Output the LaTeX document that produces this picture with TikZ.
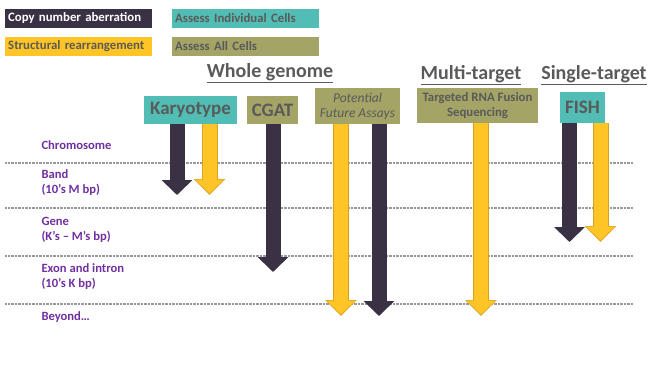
\documentclass[tikz,border=0pt]{standalone}
\usepackage{fontspec}
\setmainfont{Carlito}
\usepackage{xcolor}
\usetikzlibrary{positioning,arrows.meta}

\definecolor{cnapurple}{HTML}{3B3145}
\definecolor{sryellow}{HTML}{FFC425}
\definecolor{srgold}{HTML}{D9A21E}
\definecolor{indteal}{HTML}{52BDB4}
\definecolor{allolive}{HTML}{A4A467}
\definecolor{txtgray}{HTML}{5A5A5A}
\definecolor{lvlpurple}{HTML}{7030A0}

\begin{document}
\begin{tikzpicture}[x=1pt, y=-1pt,
  legend/.style={anchor=west, inner sep=3pt, text width=141pt, minimum height=19pt, align=left, font=\fontsize{12.8}{14}\selectfont\bfseries},
  assay/.style={draw=none, align=center, inner sep=2pt, text=txtgray},
  head/.style={font=\fontsize{20}{22}\selectfont\bfseries, text=txtgray},
  lvl/.style={anchor=west, align=left, font=\fontsize{12.6}{15}\selectfont\bfseries, text=lvlpurple},
  sep/.style={gray!80, line width=1.2pt, dash pattern=on 0.7pt off 0.7pt},
  cnarr/.style={cnapurple, line width=15pt, -{Triangle[length=15pt, width=30pt]}},
  srarr/.style={sryellow, line width=14pt, shorten >=1.5pt, -{Triangle[length=14pt, width=28pt]},
    preaction={draw=srgold, line width=16pt, shorten >=0pt, -{Triangle[length=16pt, width=31pt]}}}]
\useasboundingbox (0,0) rectangle (654,367);
% legend
\node[legend, fill=cnapurple, text=white] (cna) at (5,18.5) {Copy number aberration};
\node[legend, fill=sryellow, text=txtgray] (sr) at (5,46) {Structural rearrangement};
\node[legend, fill=indteal, text=txtgray] (indiv) at (172,18.5) {Assess Individual Cells};
\node[legend, fill=allolive, text=txtgray] (allc) at (172,46) {Assess All Cells};
% column headings
\node[head] (whole) at (270,73) {\underline{Whole genome}};
\node[head] (multi) at (471,75) {\underline{Multi-target}};
\node[head] (single) at (594,75) {\underline{Single-target}};
% assays
\node[assay, fill=indteal, minimum width=93pt, minimum height=28pt, font=\fontsize{19}{20}\selectfont\bfseries] (karyo) at (190.5,110) {Karyotype};
\node[assay, fill=allolive, minimum width=51pt, minimum height=28pt, font=\fontsize{19}{20}\selectfont\bfseries] (cgat) at (272.5,110) {CGAT};
\node[assay, fill=allolive, minimum width=85pt, minimum height=36pt, font=\fontsize{13.5}{15}\selectfont\itshape] (future) at (357.5,106) {Potential\\Future Assays};
\node[assay, fill=allolive, minimum width=121pt, minimum height=35pt, font=\fontsize{12.8}{15}\selectfont\bfseries] (rna) at (477.5,105.5) {Targeted RNA Fusion\\Sequencing};
\node[assay, fill=indteal, minimum width=45pt, minimum height=31pt, font=\fontsize{19}{20}\selectfont\bfseries] (fish) at (582.5,107.5) {FISH};
% resolution levels
\node[lvl] (chrom) at (38,145) {Chromosome};
\node[lvl] (band) at (38,183) {Band\\(10’s M bp)};
\node[lvl] (gene) at (38,229.5) {Gene\\(K’s -- M’s bp)};
\node[lvl] (exon) at (38,276.5) {Exon and intron\\(10’s K bp)};
\node[lvl] (beyond) at (38,317) {Beyond\dots};
\foreach \y in {163,208,256,304}
  \draw[sep] (5,\y) -- (633,\y);
% arrow ends
\coordinate (kc) at (177,195);
\coordinate (ks) at (209.5,195);
\coordinate (cc) at (273,272);
\coordinate (fs) at (341,316);
\coordinate (fc) at (379,316);
\coordinate (rs) at (481,316);
\coordinate (hc) at (569.5,242);
\coordinate (hs) at (600.5,242);
\draw[cnarr] (kc |- karyo.south) -- (kc);
\draw[srarr] (ks |- karyo.south) -- (ks);
\draw[cnarr] (cc |- cgat.south) -- (cc);
\draw[srarr] (fs |- future.south) -- (fs);
\draw[cnarr] (fc |- future.south) -- (fc);
\draw[srarr] (rs |- rna.south) -- (rs);
\draw[cnarr] (hc |- fish.south) -- (hc);
\draw[srarr] (hs |- fish.south) -- (hs);
\end{tikzpicture}
\end{document}
